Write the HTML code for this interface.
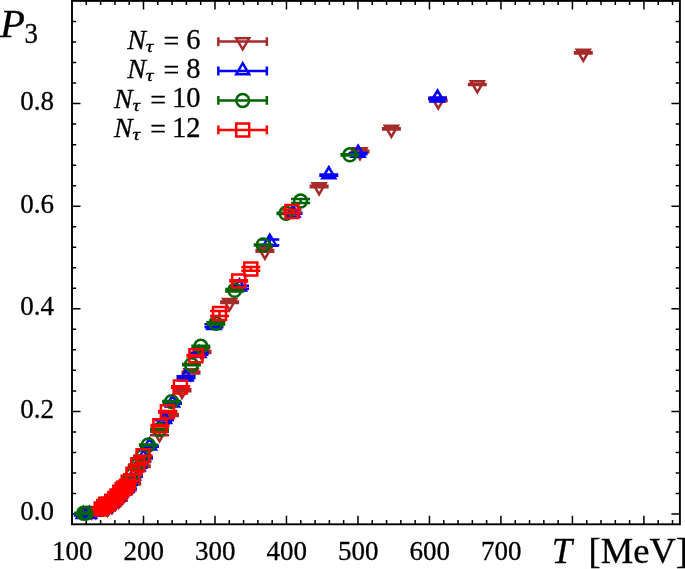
<!DOCTYPE html><html><head><meta charset="utf-8"><style>html,body{margin:0;padding:0;background:#fff;overflow:hidden}svg{display:block}.t{font-family:"Liberation Serif",serif}</style></head><body><svg width="685" height="569" viewBox="0 0 685 569">
<rect width="685" height="569" fill="#fff"/>
<path d="M86.30 524.30V520.10M86.30 0.90V5.10M100.60 524.30V520.10M100.60 0.90V5.10M114.89 524.30V520.10M114.89 0.90V5.10M129.19 524.30V520.10M129.19 0.90V5.10M143.49 524.30V515.80M143.49 0.90V9.40M157.79 524.30V520.10M157.79 0.90V5.10M172.09 524.30V520.10M172.09 0.90V5.10M186.38 524.30V520.10M186.38 0.90V5.10M200.68 524.30V520.10M200.68 0.90V5.10M214.98 524.30V515.80M214.98 0.90V9.40M229.28 524.30V520.10M229.28 0.90V5.10M243.58 524.30V520.10M243.58 0.90V5.10M257.87 524.30V520.10M257.87 0.90V5.10M272.17 524.30V520.10M272.17 0.90V5.10M286.47 524.30V515.80M286.47 0.90V9.40M300.77 524.30V520.10M300.77 0.90V5.10M315.07 524.30V520.10M315.07 0.90V5.10M329.36 524.30V520.10M329.36 0.90V5.10M343.66 524.30V520.10M343.66 0.90V5.10M357.96 524.30V515.80M357.96 0.90V9.40M372.26 524.30V520.10M372.26 0.90V5.10M386.56 524.30V520.10M386.56 0.90V5.10M400.85 524.30V520.10M400.85 0.90V5.10M415.15 524.30V520.10M415.15 0.90V5.10M429.45 524.30V515.80M429.45 0.90V9.40M443.75 524.30V520.10M443.75 0.90V5.10M458.05 524.30V520.10M458.05 0.90V5.10M472.34 524.30V520.10M472.34 0.90V5.10M486.64 524.30V520.10M486.64 0.90V5.10M500.94 524.30V515.80M500.94 0.90V9.40M515.24 524.30V520.10M515.24 0.90V5.10M529.54 524.30V520.10M529.54 0.90V5.10M543.83 524.30V520.10M543.83 0.90V5.10M558.13 524.30V520.10M558.13 0.90V5.10M572.43 524.30V515.80M572.43 0.90V9.40M586.73 524.30V520.10M586.73 0.90V5.10M601.03 524.30V520.10M601.03 0.90V5.10M615.32 524.30V520.10M615.32 0.90V5.10M629.62 524.30V520.10M629.62 0.90V5.10M643.92 524.30V515.80M643.92 0.90V9.40M658.22 524.30V520.10M658.22 0.90V5.10M672.52 524.30V520.10M672.52 0.90V5.10M72.00 514.00H80.50M679.90 514.00H671.40M72.00 493.48H76.20M679.90 493.48H675.70M72.00 472.96H76.20M679.90 472.96H675.70M72.00 452.44H76.20M679.90 452.44H675.70M72.00 431.92H76.20M679.90 431.92H675.70M72.00 411.40H80.50M679.90 411.40H671.40M72.00 390.88H76.20M679.90 390.88H675.70M72.00 370.36H76.20M679.90 370.36H675.70M72.00 349.84H76.20M679.90 349.84H675.70M72.00 329.32H76.20M679.90 329.32H675.70M72.00 308.80H80.50M679.90 308.80H671.40M72.00 288.28H76.20M679.90 288.28H675.70M72.00 267.76H76.20M679.90 267.76H675.70M72.00 247.24H76.20M679.90 247.24H675.70M72.00 226.72H76.20M679.90 226.72H675.70M72.00 206.20H80.50M679.90 206.20H671.40M72.00 185.68H76.20M679.90 185.68H675.70M72.00 165.16H76.20M679.90 165.16H675.70M72.00 144.64H76.20M679.90 144.64H675.70M72.00 124.12H76.20M679.90 124.12H675.70M72.00 103.60H80.50M679.90 103.60H671.40M72.00 83.08H76.20M679.90 83.08H675.70M72.00 62.56H76.20M679.90 62.56H675.70M72.00 42.04H76.20M679.90 42.04H675.70M72.00 21.52H76.20M679.90 21.52H675.70" stroke="#000" stroke-width="1.5" fill="none"/>
<rect x="72.0" y="0.9" width="607.90" height="523.40" stroke="#000" stroke-width="1.9" fill="none"/>
<g fill="none" stroke-width="2.5" stroke-linejoin="miter" stroke-miterlimit="10">
<path stroke="#a52a2a" d="M583.30 52.30V53.50M573.80 52.30H592.80M573.80 53.50H592.80M576.80 49.65H589.80L583.30 60.70ZM477.30 83.90V85.10M467.80 83.90H486.80M467.80 85.10H486.80M470.80 81.25H483.80L477.30 92.30ZM438.20 100.10V101.30M428.70 100.10H447.70M428.70 101.30H447.70M431.70 97.45H444.70L438.20 108.50ZM391.40 128.30V129.50M381.90 128.30H400.90M381.90 129.50H400.90M384.90 125.65H397.90L391.40 136.70ZM360.00 150.80V152.20M350.50 150.80H369.50M350.50 152.20H369.50M353.50 148.25H366.50L360.00 159.30ZM319.10 185.80V187.20M309.60 185.80H328.60M309.60 187.20H328.60M312.60 183.25H325.60L319.10 194.30ZM264.90 250.10V251.70M255.40 250.10H274.40M255.40 251.70H274.40M258.40 247.65H271.40L264.90 258.70ZM229.60 301.50V303.10M220.10 301.50H239.10M220.10 303.10H239.10M223.10 299.05H236.10L229.60 310.10ZM202.00 351.00V353.00M192.50 351.00H211.50M192.50 353.00H211.50M195.50 348.75H208.50L202.00 359.80ZM191.00 371.50V373.50M181.50 371.50H200.50M181.50 373.50H200.50M184.50 369.25H197.50L191.00 380.30ZM182.00 389.20V391.20M172.50 389.20H191.50M172.50 391.20H191.50M175.50 386.95H188.50L182.00 398.00ZM169.50 414.00V416.00M160.00 414.00H179.00M160.00 416.00H179.00M163.00 411.75H176.00L169.50 422.80ZM159.50 431.70V435.30M150.00 431.70H169.00M150.00 435.30H169.00M153.00 430.25H166.00L159.50 441.30ZM91.40 510.00V511.60M81.90 510.00H100.90M81.90 511.60H100.90M84.90 507.55H97.90L91.40 518.60ZM95.80 509.50V511.10M86.30 509.50H105.30M86.30 511.10H105.30M89.30 507.05H102.30L95.80 518.10ZM107.30 507.10V508.70M97.80 507.10H116.80M97.80 508.70H116.80M100.80 504.65H113.80L107.30 515.70ZM112.00 504.70V506.30M102.50 504.70H121.50M102.50 506.30H121.50M105.50 502.25H118.50L112.00 513.30ZM118.40 499.20V500.80M108.90 499.20H127.90M108.90 500.80H127.90M111.90 496.75H124.90L118.40 507.80ZM123.30 493.00V494.60M113.80 493.00H132.80M113.80 494.60H132.80M116.80 490.55H129.80L123.30 501.60ZM127.40 488.70V490.30M117.90 488.70H136.90M117.90 490.30H136.90M120.90 486.25H133.90L127.40 497.30ZM131.70 482.90V484.50M122.20 482.90H141.20M122.20 484.50H141.20M125.20 480.45H138.20L131.70 491.50ZM141.30 465.50V467.10M131.80 465.50H150.80M131.80 467.10H150.80M134.80 463.05H147.80L141.30 474.10Z"/>
<path stroke="#0000ff" d="M437.50 97.70V98.90M428.00 97.70H447.00M428.00 98.90H447.00M431.00 101.55H444.00L437.50 90.50ZM358.10 153.00V154.20M348.60 153.00H367.60M348.60 154.20H367.60M351.60 156.85H364.60L358.10 145.80ZM328.80 174.50V175.70M319.30 174.50H338.30M319.30 175.70H338.30M322.30 178.35H335.30L328.80 167.30ZM293.00 212.80V213.80M283.50 212.80H302.50M283.50 213.80H302.50M286.50 216.55H299.50L293.00 205.50ZM269.80 239.60V245.20M260.30 239.60H279.30M260.30 245.20H279.30M263.30 245.65H276.30L269.80 234.60ZM239.50 285.80V288.80M230.00 285.80H249.00M230.00 288.80H249.00M233.00 290.55H246.00L239.50 279.50ZM214.00 324.30V327.30M204.50 324.30H223.50M204.50 327.30H223.50M207.50 329.05H220.50L214.00 318.00ZM199.00 352.80V354.80M189.50 352.80H208.50M189.50 354.80H208.50M192.50 357.05H205.50L199.00 346.00ZM186.00 376.30V378.30M176.50 376.30H195.50M176.50 378.30H195.50M179.50 380.55H192.50L186.00 369.50ZM164.50 419.30V420.30M155.00 419.30H174.00M155.00 420.30H174.00M158.00 423.05H171.00L164.50 412.00ZM172.50 402.80V403.80M163.00 402.80H182.00M163.00 403.80H182.00M166.00 406.55H179.00L172.50 395.50ZM149.50 445.80V446.80M140.00 445.80H159.00M140.00 446.80H159.00M143.00 449.55H156.00L149.50 438.50ZM83.30 513.90V515.50M73.80 513.90H92.80M73.80 515.50H92.80M76.80 517.95H89.80L83.30 506.90ZM89.40 513.90V515.50M79.90 513.90H98.90M79.90 515.50H98.90M82.90 517.95H95.90L89.40 506.90ZM101.60 510.20V511.80M92.10 510.20H111.10M92.10 511.80H111.10M95.10 514.25H108.10L101.60 503.20ZM104.20 507.70V509.30M94.70 507.70H113.70M94.70 509.30H113.70M97.70 511.75H110.70L104.20 500.70ZM106.20 505.50V507.10M96.70 505.50H115.70M96.70 507.10H115.70M99.70 509.55H112.70L106.20 498.50ZM108.90 505.30V506.90M99.40 505.30H118.40M99.40 506.90H118.40M102.40 509.35H115.40L108.90 498.30ZM112.10 502.50V504.10M102.60 502.50H121.60M102.60 504.10H121.60M105.60 506.55H118.60L112.10 495.50ZM115.30 499.80V501.40M105.80 499.80H124.80M105.80 501.40H124.80M108.80 503.85H121.80L115.30 492.80ZM117.40 497.30V498.90M107.90 497.30H126.90M107.90 498.90H126.90M110.90 501.35H123.90L117.40 490.30ZM120.20 493.60V495.20M110.70 493.60H129.70M110.70 495.20H129.70M113.70 497.65H126.70L120.20 486.60ZM122.50 490.80V492.40M113.00 490.80H132.00M113.00 492.40H132.00M116.00 494.85H129.00L122.50 483.80ZM124.30 489.30V490.90M114.80 489.30H133.80M114.80 490.90H133.80M117.80 493.35H130.80L124.30 482.30ZM126.90 487.60V489.20M117.40 487.60H136.40M117.40 489.20H136.40M120.40 491.65H133.40L126.90 480.60ZM128.60 483.50V485.10M119.10 483.50H138.10M119.10 485.10H138.10M122.10 487.55H135.10L128.60 476.50ZM133.40 475.50V477.10M123.90 475.50H142.90M123.90 477.10H142.90M126.90 479.55H139.90L133.40 468.50ZM138.20 466.10V467.70M128.70 466.10H147.70M128.70 467.70H147.70M131.70 470.15H144.70L138.20 459.10ZM143.50 457.00V458.60M134.00 457.00H153.00M134.00 458.60H153.00M137.00 461.05H150.00L143.50 450.00Z"/>
<path stroke="#006400" d="M349.90 154.20V155.40M340.40 154.20H359.40M340.40 155.40H359.40M343.46 154.80a6.43 6.43 0 1 0 12.87 0a6.43 6.43 0 1 0 -12.87 0ZM300.60 199.10V202.90M291.10 199.10H310.10M291.10 202.90H310.10M294.17 201.00a6.43 6.43 0 1 0 12.87 0a6.43 6.43 0 1 0 -12.87 0ZM286.00 212.70V213.90M276.50 212.70H295.50M276.50 213.90H295.50M279.56 213.30a6.43 6.43 0 1 0 12.87 0a6.43 6.43 0 1 0 -12.87 0ZM263.20 244.40V245.60M253.70 244.40H272.70M253.70 245.60H272.70M256.76 245.00a6.43 6.43 0 1 0 12.87 0a6.43 6.43 0 1 0 -12.87 0ZM234.70 289.10V291.50M225.20 289.10H244.20M225.20 291.50H244.20M228.26 290.30a6.43 6.43 0 1 0 12.87 0a6.43 6.43 0 1 0 -12.87 0ZM215.80 322.20V324.60M206.30 322.20H225.30M206.30 324.60H225.30M209.37 323.40a6.43 6.43 0 1 0 12.87 0a6.43 6.43 0 1 0 -12.87 0ZM200.80 345.70V346.90M191.30 345.70H210.30M191.30 346.90H210.30M194.37 346.30a6.43 6.43 0 1 0 12.87 0a6.43 6.43 0 1 0 -12.87 0ZM191.50 364.10V365.30M182.00 364.10H201.00M182.00 365.30H201.00M185.06 364.70a6.43 6.43 0 1 0 12.87 0a6.43 6.43 0 1 0 -12.87 0ZM171.60 401.00V402.20M162.10 401.00H181.10M162.10 402.20H181.10M165.16 401.60a6.43 6.43 0 1 0 12.87 0a6.43 6.43 0 1 0 -12.87 0ZM159.50 428.90V430.10M150.00 428.90H169.00M150.00 430.10H169.00M153.06 429.50a6.43 6.43 0 1 0 12.87 0a6.43 6.43 0 1 0 -12.87 0ZM148.30 444.40V445.60M138.80 444.40H157.80M138.80 445.60H157.80M141.87 445.00a6.43 6.43 0 1 0 12.87 0a6.43 6.43 0 1 0 -12.87 0ZM83.60 512.70V513.90M74.10 512.70H93.10M74.10 513.90H93.10M77.16 513.30a6.43 6.43 0 1 0 12.87 0a6.43 6.43 0 1 0 -12.87 0ZM86.40 512.50V513.70M76.90 512.50H95.90M76.90 513.70H95.90M79.97 513.10a6.43 6.43 0 1 0 12.87 0a6.43 6.43 0 1 0 -12.87 0ZM100.70 508.90V510.10M91.20 508.90H110.20M91.20 510.10H110.20M94.27 509.50a6.43 6.43 0 1 0 12.87 0a6.43 6.43 0 1 0 -12.87 0ZM103.30 506.40V507.60M93.80 506.40H112.80M93.80 507.60H112.80M96.86 507.00a6.43 6.43 0 1 0 12.87 0a6.43 6.43 0 1 0 -12.87 0ZM105.30 504.20V505.40M95.80 504.20H114.80M95.80 505.40H114.80M98.86 504.80a6.43 6.43 0 1 0 12.87 0a6.43 6.43 0 1 0 -12.87 0ZM108.00 504.00V505.20M98.50 504.00H117.50M98.50 505.20H117.50M101.56 504.60a6.43 6.43 0 1 0 12.87 0a6.43 6.43 0 1 0 -12.87 0ZM111.20 501.20V502.40M101.70 501.20H120.70M101.70 502.40H120.70M104.77 501.80a6.43 6.43 0 1 0 12.87 0a6.43 6.43 0 1 0 -12.87 0ZM114.40 498.50V499.70M104.90 498.50H123.90M104.90 499.70H123.90M107.97 499.10a6.43 6.43 0 1 0 12.87 0a6.43 6.43 0 1 0 -12.87 0ZM116.50 496.00V497.20M107.00 496.00H126.00M107.00 497.20H126.00M110.06 496.60a6.43 6.43 0 1 0 12.87 0a6.43 6.43 0 1 0 -12.87 0ZM119.30 492.30V493.50M109.80 492.30H128.80M109.80 493.50H128.80M112.86 492.90a6.43 6.43 0 1 0 12.87 0a6.43 6.43 0 1 0 -12.87 0ZM121.60 489.50V490.70M112.10 489.50H131.10M112.10 490.70H131.10M115.16 490.10a6.43 6.43 0 1 0 12.87 0a6.43 6.43 0 1 0 -12.87 0ZM123.40 488.00V489.20M113.90 488.00H132.90M113.90 489.20H132.90M116.97 488.60a6.43 6.43 0 1 0 12.87 0a6.43 6.43 0 1 0 -12.87 0ZM126.00 486.30V487.50M116.50 486.30H135.50M116.50 487.50H135.50M119.56 486.90a6.43 6.43 0 1 0 12.87 0a6.43 6.43 0 1 0 -12.87 0ZM127.70 482.20V483.40M118.20 482.20H137.20M118.20 483.40H137.20M121.26 482.80a6.43 6.43 0 1 0 12.87 0a6.43 6.43 0 1 0 -12.87 0ZM132.50 474.20V475.40M123.00 474.20H142.00M123.00 475.40H142.00M126.06 474.80a6.43 6.43 0 1 0 12.87 0a6.43 6.43 0 1 0 -12.87 0ZM137.30 464.80V466.00M127.80 464.80H146.80M127.80 466.00H146.80M130.87 465.40a6.43 6.43 0 1 0 12.87 0a6.43 6.43 0 1 0 -12.87 0ZM142.60 455.70V456.90M133.10 455.70H152.10M133.10 456.90H152.10M136.16 456.30a6.43 6.43 0 1 0 12.87 0a6.43 6.43 0 1 0 -12.87 0Z"/>
<path stroke="#ff0000" d="M291.90 209.70V213.30M282.40 209.70H301.40M282.40 213.30H301.40M285.40 205.00h13.00v13.00h-13.00ZM250.80 267.00V270.80M241.30 267.00H260.30M241.30 270.80H260.30M244.30 262.40h13.00v13.00h-13.00ZM238.70 280.30V281.50M229.20 280.30H248.20M229.20 281.50H248.20M232.20 274.40h13.00v13.00h-13.00ZM219.50 311.10V315.90M210.00 311.10H229.00M210.00 315.90H229.00M213.00 307.00h13.00v13.00h-13.00ZM195.90 354.90V356.50M186.40 354.90H205.40M186.40 356.50H205.40M189.40 349.20h13.00v13.00h-13.00ZM180.40 386.20V387.80M170.90 386.20H189.90M170.90 387.80H189.90M173.90 380.50h13.00v13.00h-13.00ZM167.40 411.00V412.60M157.90 411.00H176.90M157.90 412.60H176.90M160.90 405.30h13.00v13.00h-13.00ZM159.90 425.00V426.60M150.40 425.00H169.40M150.40 426.60H169.40M153.40 419.30h13.00v13.00h-13.00ZM101.20 508.10V509.70M91.70 508.10H110.70M91.70 509.70H110.70M94.70 502.40h13.00v13.00h-13.00ZM103.80 505.60V507.20M94.30 505.60H113.30M94.30 507.20H113.30M97.30 499.90h13.00v13.00h-13.00ZM105.80 503.40V505.00M96.30 503.40H115.30M96.30 505.00H115.30M99.30 497.70h13.00v13.00h-13.00ZM108.50 503.20V504.80M99.00 503.20H118.00M99.00 504.80H118.00M102.00 497.50h13.00v13.00h-13.00ZM111.70 500.40V502.00M102.20 500.40H121.20M102.20 502.00H121.20M105.20 494.70h13.00v13.00h-13.00ZM114.90 497.70V499.30M105.40 497.70H124.40M105.40 499.30H124.40M108.40 492.00h13.00v13.00h-13.00ZM117.00 495.20V496.80M107.50 495.20H126.50M107.50 496.80H126.50M110.50 489.50h13.00v13.00h-13.00ZM119.80 491.50V493.10M110.30 491.50H129.30M110.30 493.10H129.30M113.30 485.80h13.00v13.00h-13.00ZM122.10 488.70V490.30M112.60 488.70H131.60M112.60 490.30H131.60M115.60 483.00h13.00v13.00h-13.00ZM123.90 487.20V488.80M114.40 487.20H133.40M114.40 488.80H133.40M117.40 481.50h13.00v13.00h-13.00ZM126.50 486.30V486.30M117.00 486.30H136.00M117.00 486.30H136.00M120.00 479.80h13.00v13.00h-13.00ZM128.20 482.20V482.20M118.70 482.20H137.70M118.70 482.20H137.70M121.70 475.70h13.00v13.00h-13.00ZM133.00 474.20V474.20M123.50 474.20H142.50M123.50 474.20H142.50M126.50 467.70h13.00v13.00h-13.00ZM137.80 464.80V464.80M128.30 464.80H147.30M128.30 464.80H147.30M131.30 458.30h13.00v13.00h-13.00ZM143.10 455.70V455.70M133.60 455.70H152.60M133.60 455.70H152.60M136.60 449.20h13.00v13.00h-13.00Z"/>
</g>
<g class="t" fill="#000" stroke="#000" stroke-width="0.3">
<text x="127.30" y="48.70" font-size="28" font-style="italic">N</text>
<text transform="translate(145.80 51.80) scale(1.22 1)" font-size="17.5" font-style="italic">τ</text>
<text x="163.50" y="50.00" font-size="28">=</text>
<text x="200.6" y="48.60" font-size="28.5" text-anchor="end">6</text>
<text x="127.30" y="78.10" font-size="28" font-style="italic">N</text>
<text transform="translate(145.80 81.20) scale(1.22 1)" font-size="17.5" font-style="italic">τ</text>
<text x="163.50" y="79.40" font-size="28">=</text>
<text x="200.6" y="78.00" font-size="28.5" text-anchor="end">8</text>
<text x="114.00" y="107.55" font-size="28" font-style="italic">N</text>
<text transform="translate(132.50 110.65) scale(1.22 1)" font-size="17.5" font-style="italic">τ</text>
<text x="150.20" y="108.85" font-size="28">=</text>
<text x="200.6" y="107.45" font-size="28.5" text-anchor="end">10</text>
<text x="114.00" y="137.00" font-size="28" font-style="italic">N</text>
<text transform="translate(132.50 140.10) scale(1.22 1)" font-size="17.5" font-style="italic">τ</text>
<text x="150.20" y="138.30" font-size="28">=</text>
<text x="200.6" y="136.90" font-size="28.5" text-anchor="end">12</text>
</g>
<path stroke="#a52a2a" stroke-width="2.5" fill="none" d="M218.35 41.60H266.85M218.35 37.20V46.00M266.85 37.20V46.00M236.20 38.35H249.20L242.70 49.40Z"/>
<path stroke="#0000ff" stroke-width="2.5" fill="none" d="M218.35 71.00H266.85M218.35 66.60V75.40M266.85 66.60V75.40M236.20 74.25H249.20L242.70 63.20Z"/>
<path stroke="#006400" stroke-width="2.5" fill="none" d="M218.35 100.45H266.85M218.35 96.05V104.85M266.85 96.05V104.85M236.26 100.45a6.43 6.43 0 1 0 12.87 0a6.43 6.43 0 1 0 -12.87 0Z"/>
<path stroke="#ff0000" stroke-width="2.5" fill="none" d="M218.35 129.90H266.85M218.35 125.50V134.30M266.85 125.50V134.30M236.20 123.40h13.00v13.00h-13.00Z"/>
<g class="t" font-size="27" fill="#000" stroke="#000" stroke-width="0.3">
<text x="54.0" y="520.30" text-anchor="end">0.0</text>
<text x="54.0" y="417.70" text-anchor="end">0.2</text>
<text x="54.0" y="315.10" text-anchor="end">0.4</text>
<text x="54.0" y="212.50" text-anchor="end">0.6</text>
<text x="54.0" y="109.90" text-anchor="end">0.8</text>
<text x="72.30" y="560.3" text-anchor="middle">100</text>
<text x="143.79" y="560.3" text-anchor="middle">200</text>
<text x="215.28" y="560.3" text-anchor="middle">300</text>
<text x="286.77" y="560.3" text-anchor="middle">400</text>
<text x="358.26" y="560.3" text-anchor="middle">500</text>
<text x="429.75" y="560.3" text-anchor="middle">600</text>
<text x="501.24" y="560.3" text-anchor="middle">700</text>
</g>
<g class="t" fill="#000" stroke="#000" stroke-width="0.3">
<text x="551.8" y="563.2" font-size="36.5" font-style="italic">T</text>
<text x="588.6" y="562.8" font-size="36.5">[MeV]</text>
<text x="0" y="36.9" font-size="40.8" font-style="italic">P</text>
<text transform="translate(24.6 43.1) scale(0.88 1)" font-size="30.5">3</text>
</g>
</svg></body></html>
